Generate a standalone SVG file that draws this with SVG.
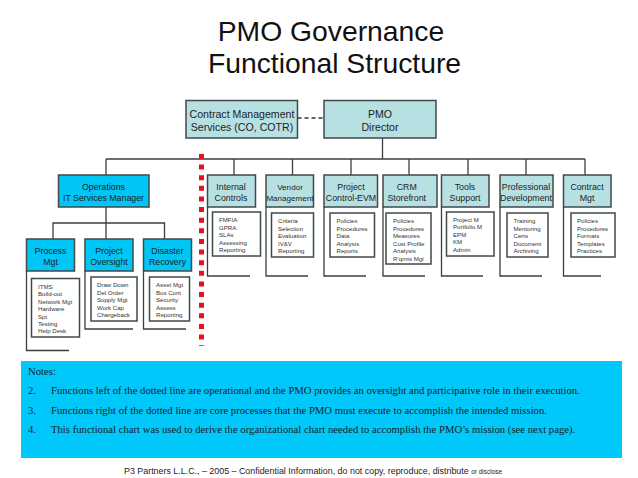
<svg xmlns="http://www.w3.org/2000/svg" width="638" height="478" viewBox="0 0 638 478">
<style>
text{font-family:"Liberation Sans",Arial,sans-serif;fill:#1c2224}
.t{font-size:28.300px;text-anchor:middle;fill:#111}
.n{font-size:8.800px;text-anchor:middle}
.m{font-size:10.600px}
.v{font-size:8.100px}
.b{stroke:#3f4a4a;stroke-width:1.500}
.pale{fill:#b7e0e3}
.cyan{fill:#00c6f5}
.d{fill:#fff}
.s{font-size:6.100px;fill:#333}
.c{fill:none;stroke:#3a3f3f;stroke-width:1.300}
.r{font-family:"Liberation Serif",serif;font-size:10.700px}
</style>
<rect width="638" height="478" fill="#fff"/>
<text class="t" x="331" y="41">PMO Governance</text>
<text class="t" x="334.500" y="73">Functional Structure</text>

<g id="connectors">
<path class="c" d="M382.500 138V159M106 159H585M106 159V175M234 159V175M292.500 159V175M351 159V175M409 159V175M468 159V175M526 159V175M585 159V175"/>
<path class="c" d="M106 207V239M53 239V223H164.500V239"/>
<path class="c" d="M26.500 271V350.500H69M85 271V329H133M143.500 271V329H186"/>
<path class="c" d="M207.500 207V276H250M266 207V276H308M324 207V276H366M383 207V276H425M441.500 207V276H483M500 207V276H542M563.500 207V276H601"/>
<path fill="none" stroke="#333" stroke-width="1.300" stroke-dasharray="4 3" d="M297.500 118H324"/>
<path fill="none" stroke="#e8101c" stroke-width="5" stroke-dasharray="5 5.620" d="M201.500 154V346"/>
</g>

<g id="contract-mgmt-services"><rect class="b pale" x="186" y="100.500" width="111.500" height="37.500"/><text class="n m" x="242" y="117.500">Contract Management</text><text class="n m" x="242" y="130.500">Services (CO, COTR)</text></g>
<g id="pmo-director"><rect class="b pale" x="324" y="100.500" width="112" height="37.500"/><text class="n m" x="380" y="117.500">PMO</text><text class="n m" x="380" y="130.500">Director</text></g>

<g id="operations"><rect class="b cyan" x="58.500" y="175" width="90.500" height="32"/><text class="n" x="103.500" y="189.500">Operations</text><text class="n" x="103.500" y="200.500">IT Services Manager</text></g>
<g id="process-mgt"><rect class="b cyan" x="26.500" y="239" width="48" height="32"/><text class="n" x="50.500" y="253.500">Process</text><text class="n" x="50.500" y="264.500">Mgt</text></g>
<g id="project-oversight"><rect class="b cyan" x="85" y="239" width="48" height="32"/><text class="n" x="109" y="253.500">Project</text><text class="n" x="109" y="264.500">Oversight</text></g>
<g id="disaster-recovery"><rect class="b cyan" x="143.500" y="239" width="48" height="32"/><text class="n" x="167.500" y="253.500">Disaster</text><text class="n" x="167.500" y="264.500">Recovery</text></g>

<g id="internal-controls"><rect class="b pale" x="207.500" y="175" width="48" height="32"/><text class="n" x="231" y="189.500">Internal</text><text class="n" x="231" y="200.500">Controls</text></g>
<g id="vendor-management"><rect class="b pale" x="266" y="175" width="47.500" height="32"/><text class="n v" x="290" y="190">Vendor</text><text class="n v" x="290" y="200.500">Management</text></g>
<g id="project-control"><rect class="b pale" x="324" y="175" width="53.500" height="32"/><text class="n" x="351" y="189.500">Project</text><text class="n" x="351" y="200.500">Control-EVM</text></g>
<g id="crm-storefront"><rect class="b pale" x="383" y="175" width="54" height="32"/><text class="n" x="406.700" y="189.500">CRM</text><text class="n" x="406.700" y="200.500">Storefront</text></g>
<g id="tools-support"><rect class="b pale" x="441.500" y="175" width="47.500" height="32"/><text class="n" x="465" y="189.500">Tools</text><text class="n" x="465" y="200.500">Support</text></g>
<g id="professional-development"><rect class="b pale" x="500" y="175" width="53" height="32"/><text class="n" x="526" y="189.500">Professional</text><text class="n" x="526" y="200.500">Development</text></g>
<g id="contract-mgt"><rect class="b pale" x="563.500" y="175" width="47.500" height="32"/><text class="n" x="587" y="189.500">Contract</text><text class="n" x="587" y="200.500">Mgt</text></g>

<g id="detail-process"><rect class="b d" x="31.500" y="278.500" width="48" height="58.500"/><text class="s" x="38" y="288.500">ITMS</text><text class="s" x="38" y="296">Build-out</text><text class="s" x="38" y="303.500">Network Mgt</text><text class="s" x="38" y="311">Hardware</text><text class="s" x="38" y="318.500">Spt</text><text class="s" x="38" y="326">Testing</text><text class="s" x="38" y="333">Help Desk</text></g>
<g id="detail-oversight"><rect class="b d" x="91" y="277" width="46" height="44"/><text class="s" x="97" y="287">Draw Down</text><text class="s" x="97" y="294.500">Del Order</text><text class="s" x="97" y="302">Supply Mgt</text><text class="s" x="97" y="309.500">Work Cap</text><text class="s" x="97" y="317">Chargeback</text></g>
<g id="detail-recovery"><rect class="b d" x="149.500" y="277" width="40" height="44"/><text class="s" x="156" y="287">Asset Mgt</text><text class="s" x="156" y="294.500">Bus Cont</text><text class="s" x="156" y="302">Security</text><text class="s" x="156" y="309.500">Assess</text><text class="s" x="156" y="317">Reporting</text></g>
<g id="detail-internal"><rect class="b d" x="212.500" y="212" width="48" height="44"/><text class="s" x="219" y="222">FMFIA</text><text class="s" x="219" y="229.500">GPRA</text><text class="s" x="219" y="237">SLAs</text><text class="s" x="219" y="244.500">Assessing</text><text class="s" x="219" y="252">Reporting</text></g>
<g id="detail-vendor"><rect class="b d" x="271.500" y="213" width="42" height="44"/><text class="s" x="278" y="223">Criteria</text><text class="s" x="278" y="230.500">Selection</text><text class="s" x="278" y="238">Evaluation</text><text class="s" x="278" y="245.500">IV&amp;V</text><text class="s" x="278" y="253">Reporting</text></g>
<g id="detail-project"><rect class="b d" x="330" y="213" width="44.500" height="44"/><text class="s" x="336.500" y="223">Policies</text><text class="s" x="336.500" y="230.500">Procedures</text><text class="s" x="336.500" y="238">Data</text><text class="s" x="336.500" y="245.500">Analysis</text><text class="s" x="336.500" y="253">Reports</text></g>
<g id="detail-crm"><rect class="b d" x="386" y="213" width="45" height="51"/><text class="s" x="393" y="223">Policies</text><text class="s" x="393" y="230.500">Procedures</text><text class="s" x="393" y="238">Measures</text><text class="s" x="393" y="245.500">Cust Profile</text><text class="s" x="393" y="253">Analysis</text><text class="s" x="393" y="260.500">R’qmts Mgt</text></g>
<g id="detail-tools"><rect class="b d" x="446.500" y="212" width="47.500" height="44"/><text class="s" x="453" y="222">Project M</text><text class="s" x="453" y="229">Portfolio M</text><text class="s" x="453" y="237">EPM</text><text class="s" x="453" y="244">KM</text><text class="s" x="453" y="252">Admin</text></g>
<g id="detail-professional"><rect class="b d" x="507" y="213" width="41" height="44"/><text class="s" x="513.500" y="223">Training</text><text class="s" x="513.500" y="230.500">Mentoring</text><text class="s" x="513.500" y="238">Certs</text><text class="s" x="513.500" y="245.500">Document</text><text class="s" x="513.500" y="253">Archiving</text></g>
<g id="detail-contract"><rect class="b d" x="571" y="213" width="44" height="44"/><text class="s" x="577" y="223">Policies</text><text class="s" x="577" y="230.500">Procedures</text><text class="s" x="577" y="238">Formats</text><text class="s" x="577" y="245.500">Templates</text><text class="s" x="577" y="253">Practices</text></g>

<g id="notes"><rect x="21" y="361" width="601" height="97" fill="#00c8fb"/>
<text class="r" x="28" y="375">Notes:</text>
<text class="r" x="28" y="394">2.</text><text class="r" x="51" y="394">Functions left of the dotted line are operational and the PMO provides an oversight and participative role in their execution.</text>
<text class="r" x="28" y="414">3.</text><text class="r" x="51" y="414">Functions right of the dotted line are core processes that the PMO must execute to accomplish the intended mission.</text>
<text class="r" x="28" y="433">4.</text><text class="r" x="51" y="433">This functional chart was used to derive the organizational chart needed to accomplish the PMO’s mission (see next page).</text>
</g>
<text x="124" y="474" style="font-size:8.900px">P3 Partners L.L.C., – 2005 – Confidential Information, do not copy, reproduce, distribute <tspan style="font-size:6.500px">or disclose</tspan></text>
</svg>
